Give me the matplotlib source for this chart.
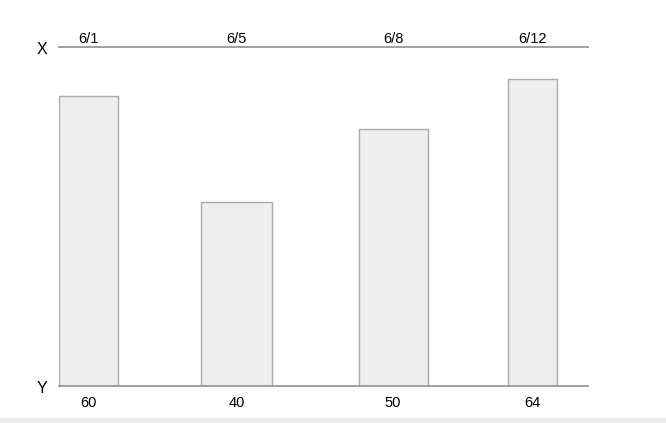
import matplotlib.pyplot as plt
from matplotlib.patches import Rectangle

dates = ["6/1", "6/5", "6/8", "6/12"]
values = ["60", "40", "50", "64"]
# bar geometry (axis units: x in px from left line, y in % of frame)
centers = [29.5, 177.5, 334, 473]
widths = [59, 71, 69, 49]
heights = [85.5, 54.3, 75.8, 90.6]

plt.rcParams['font.family'] = ['Liberation Sans', 'DejaVu Sans']

fig = plt.figure(figsize=(6.66, 4.23), dpi=100)
ax = fig.add_axes([59 / 666, 37 / 423, 529 / 666, 339 / 423])
ax.set_xlim(0, 529)
ax.set_ylim(0, 100)

ax.bar(centers, heights, width=widths, color="#eeeeee", edgecolor="#aaaaaa", linewidth=1, zorder=2)

for s in ["left", "right"]:
    ax.spines[s].set_visible(False)
for s in ["top", "bottom"]:
    ax.spines[s].set_color("#999999")
    ax.spines[s].set_linewidth(1.3)
    ax.spines[s].set_zorder(3)

ax.set_xticks(centers)
ax.set_xticklabels(values, fontsize=10.5)
ax.tick_params(axis="x", length=0, pad=7.5)
ax.set_yticks([])

ax2 = ax.secondary_xaxis("top")
ax2.set_xticks(centers)
ax2.set_xticklabels(dates, fontsize=10.5)
ax2.tick_params(axis="x", length=0, pad=1)
ax2.spines["top"].set_visible(False)

fig.text(42 / 666, 1 - 50 / 423, "X", fontsize=11.5, ha="center", va="center")
fig.text(42 / 666, 1 - 388 / 423, "Y", fontsize=11.5, ha="center", va="center")

# grey strip along the bottom edge
fig.add_artist(Rectangle((0, 0), 1, 5 / 423, transform=fig.transFigure, color="#ececec", lw=0))

fig.savefig("out.png", dpi=100)
